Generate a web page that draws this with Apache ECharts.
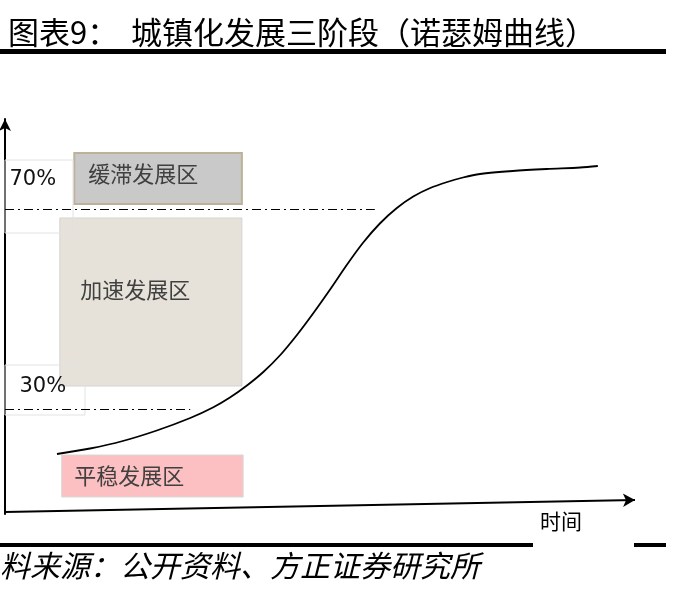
<!DOCTYPE html>
<html><head><meta charset="utf-8">
<script src="https://cdn.jsdelivr.net/npm/echarts@6/dist/echarts.min.js"></script>
<style>html,body{margin:0;padding:0;background:#fff}#c{width:680px;height:596px}</style>
</head><body><div id="c"></div>
<script>
// Northam curve (time vs urbanization %)
const curveTime = [8.25, 13.5, 18.7, 24.1, 29.4, 33.0, 35.7, 38.4, 41.0, 43.7, 46.4, 48.9, 51.6, 54.3, 56.8, 59.5, 62.2, 64.8, 67.5, 70.2, 72.7, 75.4, 80.6, 86.0, 91.3, 94.1];
const curveRate = [21.0, 22.1, 23.6, 25.7, 28.2, 30.3, 32.3, 34.7, 37.4, 40.8, 44.9, 49.1, 53.9, 58.9, 63.2, 67.1, 70.2, 72.5, 74.2, 75.4, 76.3, 77.0, 77.6, 78.0, 78.3, 78.6];
// thresholds
const thresholdValues = [70, 30];
const thresholdLabels = ['70%', '30%'];
const thresholdLineEnd = [58.7, 29.4];
// zones: name, [x0,x1], [yTop,yBottom]
const zoneNames = ['缓滞发展区', '加速发展区', '平稳发展区'];
const zoneX = [[11.0, 37.6], [8.7, 37.6], [9.0, 37.8]];
const zoneY = [[81.2, 71.0], [68.2, 34.6], [20.8, 12.4]];
const labelBoxX = [[0, 10.8], [0, 12.7]];
const labelBoxY = [[79.8, 65.2], [38.8, 28.8]];
const xAxisLine = [[0, 9.4], [100, 11.8]];
const titleLead = '图表9：';
const titleText = '城镇化发展三阶段（诺瑟姆曲线）';
const sourceText = '料来源：公开资料、方正证券研究所';
const xAxisName = '时间';

const zoneStyles = [
  {color: '#c9c9c9', borderColor: '#bcb29a', borderWidth: 2},
  {color: '#e6e2d9', borderColor: '#d4d4d4', borderWidth: 1},
  {color: '#fcbfc2', borderColor: '#d8d8d8', borderWidth: 1}
];
const zoneLabelPos = [[15, 11], [21, 61], [13, 10]];
const boxLabelPos = [[5, 10], [15, 12]];

const chart = echarts.init(document.getElementById('c'), null, {renderer: 'canvas'});
const cjk = '"Noto Sans CJK SC", "Noto Sans", sans-serif';

const areas = zoneNames.map((n, i) => [
  {name: n, coord: [zoneX[i][0], zoneY[i][0]], itemStyle: zoneStyles[i],
   label: {show: true, position: zoneLabelPos[i], align: 'left', verticalAlign: 'top',
     fontSize: 22, lineHeight: 22, color: '#404040', fontFamily: cjk}},
  {coord: [zoneX[i][1], zoneY[i][1]]}
]).concat(thresholdLabels.map((t, i) => [
  {name: t, coord: [labelBoxX[i][0], labelBoxY[i][0]],
   itemStyle: {color: 'rgba(255,255,255,0)', borderColor: '#e2e2e2', borderWidth: 1},
   label: {show: true, position: boxLabelPos[i], align: 'left', verticalAlign: 'top',
     fontSize: 21, lineHeight: 21, color: '#111', fontFamily: '"DejaVu Sans", sans-serif'}},
  {coord: [labelBoxX[i][1], labelBoxY[i][1]]}
]));

const lines = thresholdValues.map((v, i) => [
  {coord: [0, v], symbol: 'none', lineStyle: {type: [9, 4, 2, 4], color: '#000', width: 1.2}},
  {coord: [thresholdLineEnd[i], v], symbol: 'none'}
]);
lines.push([
  {coord: xAxisLine[0], symbol: 'none', lineStyle: {type: 'solid', color: '#000', width: 2}},
  {coord: xAxisLine[1], symbol: 'arrow', symbolSize: [10, 12]}
]);

chart.setOption({
  animation: false,
  backgroundColor: '#fff',
  grid: {left: 5, width: 630, top: 119, height: 395},
  xAxis: {type: 'value', min: 0, max: 100, show: false},
  yAxis: {type: 'value', min: 9, max: 88,
    axisLine: {show: true, symbol: ['none', 'arrow'], symbolSize: [9, 12], lineStyle: {color: '#000', width: 2}},
    axisTick: {show: false}, axisLabel: {show: false}, splitLine: {show: false}},
  series: [
    {type: 'line', z: 1, silent: true, data: [],
     markArea: {silent: true, data: areas},
     markLine: {silent: true, symbol: 'none', label: {show: false}, data: lines}},
    {type: 'line', z: 3, smooth: 0.3, showSymbol: false, silent: true,
     lineStyle: {color: '#000', width: 1.8},
     data: curveTime.map((t, i) => [t, curveRate[i]])}
  ],
  graphic: [
    {type: 'text', left: 8, top: 17, style: {text: titleLead, font: '31px ' + cjk, fill: '#000'}},
    {type: 'text', left: 131, top: 17, style: {text: titleText, font: '31px ' + cjk, fill: '#000'}},
    {type: 'rect', shape: {x: 0, y: 49, width: 666, height: 5}, style: {fill: '#000'}},
    {type: 'rect', shape: {x: 0, y: 543, width: 666, height: 4}, style: {fill: '#000'}},
    {type: 'rect', shape: {x: 533, y: 506, width: 101, height: 50}, style: {fill: '#fff'}},
    {type: 'text', left: 540, top: 511, style: {text: xAxisName, font: '21px ' + cjk, fill: '#000'}},
    {type: 'text', left: 0, top: 551, style: {text: sourceText, font: 'italic 30px ' + cjk, fill: '#000'}}
  ]
});
</script></body></html>
